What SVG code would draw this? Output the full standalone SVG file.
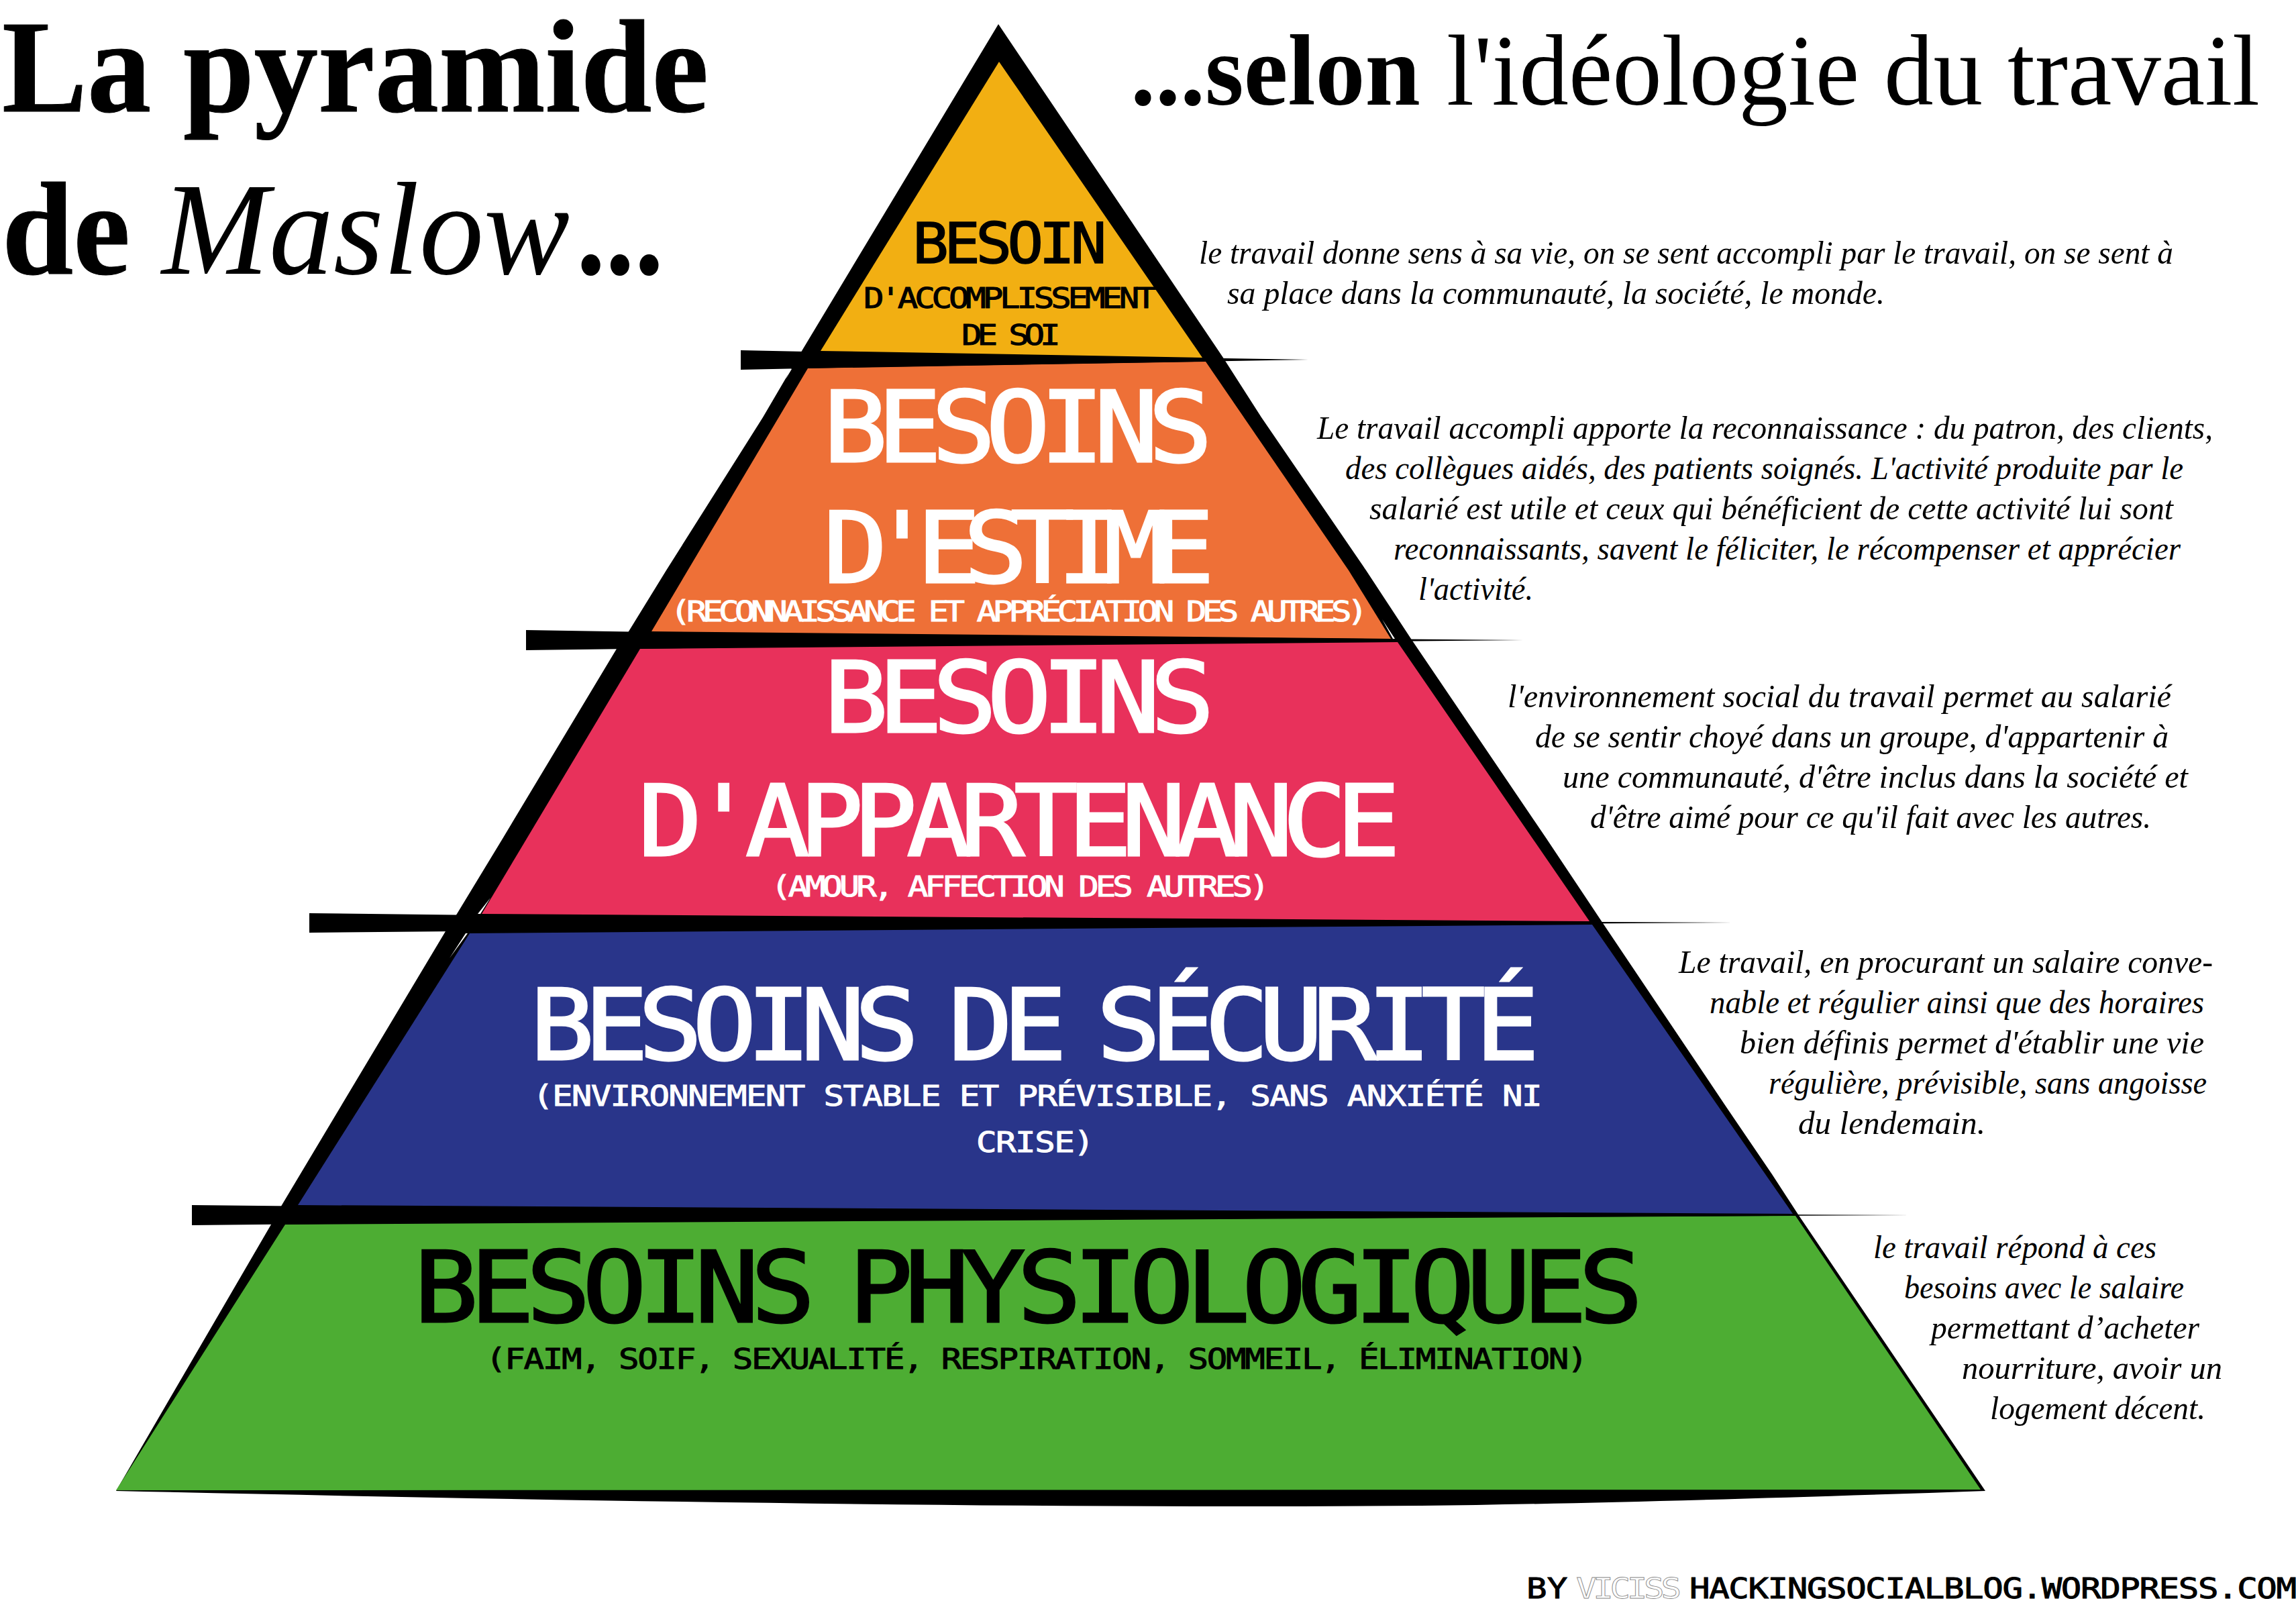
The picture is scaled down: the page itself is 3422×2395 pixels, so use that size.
<svg xmlns="http://www.w3.org/2000/svg" width="3422" height="2395" viewBox="0 0 3422 2395">
<style>
text{fill:#000}
.s{font-family:"DejaVu Sans Mono","Liberation Mono",monospace}
.w{fill:#fff;stroke:#fff}
.k{fill:#000;stroke:#000}
.b{font-size:147px;stroke-width:3}
.m{font-size:43px;stroke-width:1}
.t{font-family:"Liberation Serif",serif;font-weight:700;font-size:198px}
.i{font-family:"Liberation Serif",serif;font-style:italic;font-size:49px}
.h{font-family:"Liberation Serif",serif;font-size:150px}
</style>
<rect width="3422" height="2395" fill="#fff"/>
<g id="title">
<text class="t" x="3" y="166" textLength="1053" lengthAdjust="spacingAndGlyphs" stroke="#000" stroke-width="1">La pyramide</text>
<text class="t" x="3" y="408" textLength="191" lengthAdjust="spacingAndGlyphs" stroke="#000" stroke-width="1">de</text>
<text class="t" x="241" y="408" textLength="608" lengthAdjust="spacingAndGlyphs" style="font-style:italic;font-weight:400">Maslow</text>
<text class="t" x="859" y="408" textLength="130" lengthAdjust="spacingAndGlyphs">...</text>
<text class="h" x="1685" y="156" textLength="432" lengthAdjust="spacingAndGlyphs" font-weight="700">...selon</text>
<text class="h" x="2156" y="156" textLength="1212" lengthAdjust="spacingAndGlyphs">l'idéologie du travail</text>
</g>
<g id="pyramid-outline">
<path d="M1488,36 L1823,533 L1880,622 L2036,850 L2103,952 L2305,1250 L2387,1373 L2573,1650 L2641,1750 L2680,1810 L2959,2222 Q2500,2238 2200,2243 Q1500,2252 173,2222 L404,1825 L420,1796 L664,1388 L681,1362 L749,1250 L919,967 L937,941 L993,850 L1137,622 L1195,523 Z" fill="#000"/>
</g>
<g id="level-accomplissement">
<path d="M1489,92 L1792,533 L1223,523 Z" fill="#F2AF12"/>
<text class="s k" transform="translate(1360 392) scale(1.08 1)" font-size="83" stroke-width="1.5" textLength="268" lengthAdjust="spacing">BESOIN</text>
<text class="s k m" transform="translate(1287 459) scale(1.18 1)" textLength="370" lengthAdjust="spacing">D'ACCOMPLISSEMENT</text>
<text class="s k m" transform="translate(1433 514) scale(1.18 1)" textLength="125" lengthAdjust="spacing">DE SOI</text>
</g>
<g id="level-estime">
<path d="M1204,549 L1797,539 L2010,850 L2073,952 L971,941 Z" fill="#EE7037"/>
<text class="s w b" transform="translate(1227 688) scale(1.08 1)" textLength="537" lengthAdjust="spacing">BESOINS</text>
<text class="s w b" transform="translate(1227 868) scale(1.08 1)" textLength="540" lengthAdjust="spacing">D'ESTIME</text>
<text class="s w m" transform="translate(999 926) scale(1.18 1)" textLength="881" lengthAdjust="spacing">(RECONNAISSANCE ET APPRÉCIATION DES AUTRES)</text>
</g>
<g id="level-appartenance">
<path d="M954,967 L2083,957 L2369,1373 L718,1362 Z" fill="#E8315B"/>
<text class="s w b" transform="translate(1228 1091) scale(1.08 1)" textLength="539" lengthAdjust="spacing">BESOINS</text>
<text class="s w b" transform="translate(951 1275) scale(1.08 1)" textLength="1052" lengthAdjust="spacing">D'APPARTENANCE</text>
<text class="s w m" transform="translate(1149 1336) scale(1.18 1)" textLength="630" lengthAdjust="spacing">(AMOUR, AFFECTION DES AUTRES)</text>
</g>
<g id="level-securite">
<path d="M700,1391 L2373,1378 L2672,1809 L444,1796 Z" fill="#29358A"/>
<text class="s w b" transform="translate(790 1579) scale(1.08 1)" word-spacing="-20" textLength="1393" lengthAdjust="spacing">BESOINS DE SÉCURITÉ</text>
<text class="s w m" transform="translate(794 1648) scale(1.18 1)" textLength="1275" lengthAdjust="spacing">(ENVIRONNEMENT STABLE ET PRÉVISIBLE, SANS ANXIÉTÉ NI</text>
<text class="s w m" transform="translate(1455 1717) scale(1.18 1)" textLength="149" lengthAdjust="spacing">CRISE)</text>
</g>
<g id="level-physiologiques">
<path d="M425,1825 L2676,1812 L2952,2220 L173,2221 Z" fill="#4DAD33"/>
<text class="s k b" transform="translate(617 1970) scale(1.08 1)" word-spacing="-20" textLength="1696" lengthAdjust="spacing">BESOINS PHYSIOLOGIQUES</text>
<text class="s k m" transform="translate(724 2040) scale(1.18 1)" textLength="1392" lengthAdjust="spacing">(FAIM, SOIF, SEXUALITÉ, RESPIRATION, SOMMEIL, ÉLIMINATION)</text>
</g>
<g id="connectors" fill="#000">
<path d="M1104,522 L1300,526 L1950,536 L1300,547 L1104,551 Z"/>
<path d="M784,939 L1100,944 L2270,954 L1100,965 L784,969 Z"/>
<path d="M461,1361 L900,1366 L2583,1375 L900,1386 L461,1390 Z"/>
<path d="M286,1796 L700,1800 L2847,1811 L700,1822 L286,1826 Z"/>
<path fill="#fff" d="M2060,923 L2079,952 L2076,952 Z M1828,539 L1842,560 L1830,539 Z M1180,550 L1171,565 L1178,550 Z M731,1338 L712,1362 L716,1362 Z M697,1391 L670,1428 L694,1391 Z"/>
</g>
<g id="desc-accomplissement">
<text class="i" x="1787" y="393" textLength="1452" lengthAdjust="spacingAndGlyphs">le travail donne sens à sa vie, on se sent accompli par le travail, on se sent à</text>
<text class="i" x="1829" y="453" textLength="980" lengthAdjust="spacingAndGlyphs">sa place dans la communauté, la société, le monde.</text>
</g>
<g id="desc-estime">
<text class="i" x="1963" y="654" textLength="1335" lengthAdjust="spacingAndGlyphs">Le travail accompli apporte la reconnaissance : du patron, des clients,</text>
<text class="i" x="2005" y="714" textLength="1249" lengthAdjust="spacingAndGlyphs">des collègues aidés, des patients soignés. L'activité produite par le</text>
<text class="i" x="2041" y="774" textLength="1198" lengthAdjust="spacingAndGlyphs">salarié est utile et ceux qui bénéficient de cette activité lui sont</text>
<text class="i" x="2077" y="834" textLength="1173" lengthAdjust="spacingAndGlyphs">reconnaissants, savent le féliciter, le récompenser et apprécier</text>
<text class="i" x="2114" y="894" textLength="171" lengthAdjust="spacingAndGlyphs">l'activité.</text>
</g>
<g id="desc-appartenance">
<text class="i" x="2247" y="1054" textLength="989" lengthAdjust="spacingAndGlyphs">l'environnement social du travail permet au salarié</text>
<text class="i" x="2288" y="1114" textLength="944" lengthAdjust="spacingAndGlyphs">de se sentir choyé dans un groupe, d'appartenir à</text>
<text class="i" x="2329" y="1174" textLength="932" lengthAdjust="spacingAndGlyphs">une communauté, d'être inclus dans la société et</text>
<text class="i" x="2370" y="1234" textLength="836" lengthAdjust="spacingAndGlyphs">d'être aimé pour ce qu'il fait avec les autres.</text>
</g>
<g id="desc-securite">
<text class="i" x="2502" y="1450" textLength="796" lengthAdjust="spacingAndGlyphs">Le travail, en procurant un salaire conve-</text>
<text class="i" x="2548" y="1510" textLength="737" lengthAdjust="spacingAndGlyphs">nable et régulier ainsi que des horaires</text>
<text class="i" x="2593" y="1570" textLength="692" lengthAdjust="spacingAndGlyphs">bien définis permet d'établir une vie</text>
<text class="i" x="2636" y="1630" textLength="653" lengthAdjust="spacingAndGlyphs">régulière, prévisible, sans angoisse</text>
<text class="i" x="2680" y="1690" textLength="279" lengthAdjust="spacingAndGlyphs">du lendemain.</text>
</g>
<g id="desc-physiologiques">
<text class="i" x="2792" y="1875" textLength="422" lengthAdjust="spacingAndGlyphs">le travail répond à ces</text>
<text class="i" x="2838" y="1935" textLength="417" lengthAdjust="spacingAndGlyphs">besoins avec le salaire</text>
<text class="i" x="2878" y="1995" textLength="400" lengthAdjust="spacingAndGlyphs">permettant d’acheter</text>
<text class="i" x="2924" y="2055" textLength="388" lengthAdjust="spacingAndGlyphs">nourriture, avoir un</text>
<text class="i" x="2966" y="2115" textLength="321" lengthAdjust="spacingAndGlyphs">logement décent.</text>
</g>
<g id="credit">
<text class="s k m" transform="translate(2275 2382) scale(1.18 1)" textLength="52" lengthAdjust="spacing">BY</text>
<text class="s" transform="translate(2349 2382) scale(1.18 1)" font-size="43" textLength="133" lengthAdjust="spacing" style="fill:#fff;stroke:#888;stroke-width:0.8">VICISS</text>
<text class="s k m" transform="translate(2518 2382) scale(1.18 1)" textLength="767" lengthAdjust="spacing">HACKINGSOCIALBLOG.WORDPRESS.COM</text>
</g>
</svg>
